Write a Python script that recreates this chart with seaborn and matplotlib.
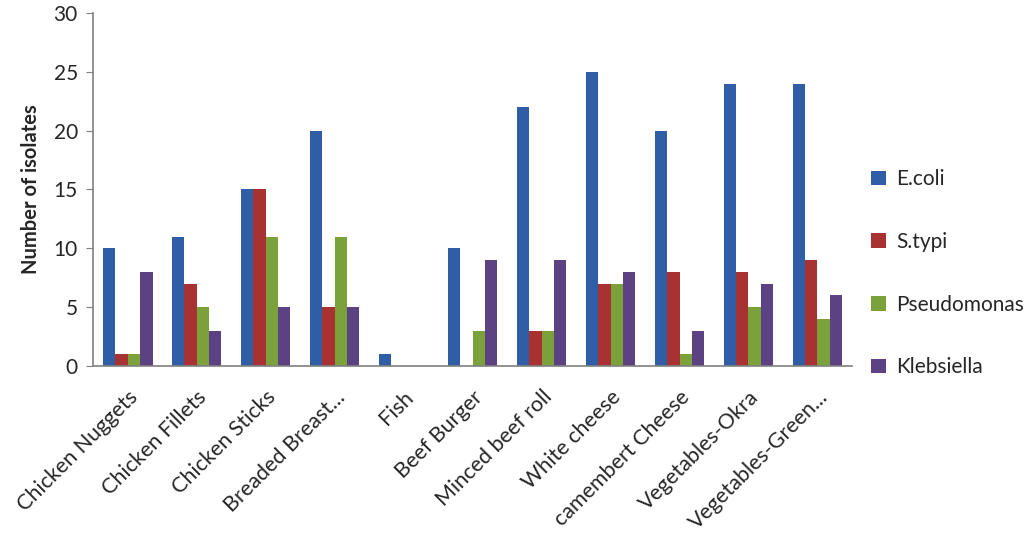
import numpy as np
import seaborn as sns
import matplotlib.pyplot as plt
import pandas as pd

foods = ['Chicken Nuggets', 'Chicken Fillets', 'Chicken Sticks', 'Breaded Breast...',
         'Fish', 'Beef Burger', 'Minced beef roll', 'White cheese',
         'camembert Cheese', 'Vegetables-Okra', 'Vegetables-Green...']
ecoli = [10, 11, 15, 20, 1, 10, 22, 25, 20, 24, 24]
styphi = [1, 7, 15, 5, 0, 0, 3, 7, 8, 8, 9]
pseudo = [1, 5, 11, 11, 0, 3, 3, 7, 1, 5, 4]
klebs = [8, 3, 5, 5, 0, 9, 9, 8, 3, 7, 6]
series = ['E.coli', 'S.typi', 'Pseudomonas', 'Klebsiella']
colors = ['#2F5DA6', '#A83232', '#7BA23A', '#5D4283']

rows = []
for name, vals in zip(series, [ecoli, styphi, pseudo, klebs]):
    for f, v in zip(foods, vals):
        rows.append({'food': f, 'organism': name, 'count': v})
df = pd.DataFrame(rows)

sns.set_style('white')
plt.rcParams['font.family'] = ['Lato', 'DejaVu Sans']

fig = plt.figure(figsize=(10.24, 5.36), dpi=100)
ax = fig.add_axes([0.091, 0.317, 0.741, 0.659])
sns.barplot(data=df, x='food', y='count', hue='organism', order=foods,
            hue_order=series, palette=colors, width=0.72, saturation=1,
            edgecolor='none', ax=ax)

ax.set_ylim(0, 30)
ax.set_yticks(range(0, 31, 5))
ax.set_xlim(-0.5, len(foods) - 0.5)
ax.set_xlabel('')
ax.set_ylabel('Number of isolates', fontsize=14.5, fontweight='bold', labelpad=9)
ax.tick_params(axis='y', direction='out', length=5, color='#808080', labelsize=15, left=True, pad=6)
ax.tick_params(axis='x', length=0, labelsize=15.5, pad=15)
plt.setp(ax.get_xticklabels(), rotation=45, ha='right', rotation_mode='anchor')
for s in ['top', 'right']:
    ax.spines[s].set_visible(False)
for s in ['left', 'bottom']:
    ax.spines[s].set_color('#808080')
    ax.spines[s].set_linewidth(1.2)

ax.legend(loc='center left', bbox_to_anchor=(0.851, 0.49), bbox_transform=fig.transFigure,
          frameon=False, fontsize=15, labelspacing=2.05, handlelength=0.7,
          handleheight=0.7, handletextpad=0.5, borderpad=0, borderaxespad=0)

fig.savefig('out.png', dpi=100)
